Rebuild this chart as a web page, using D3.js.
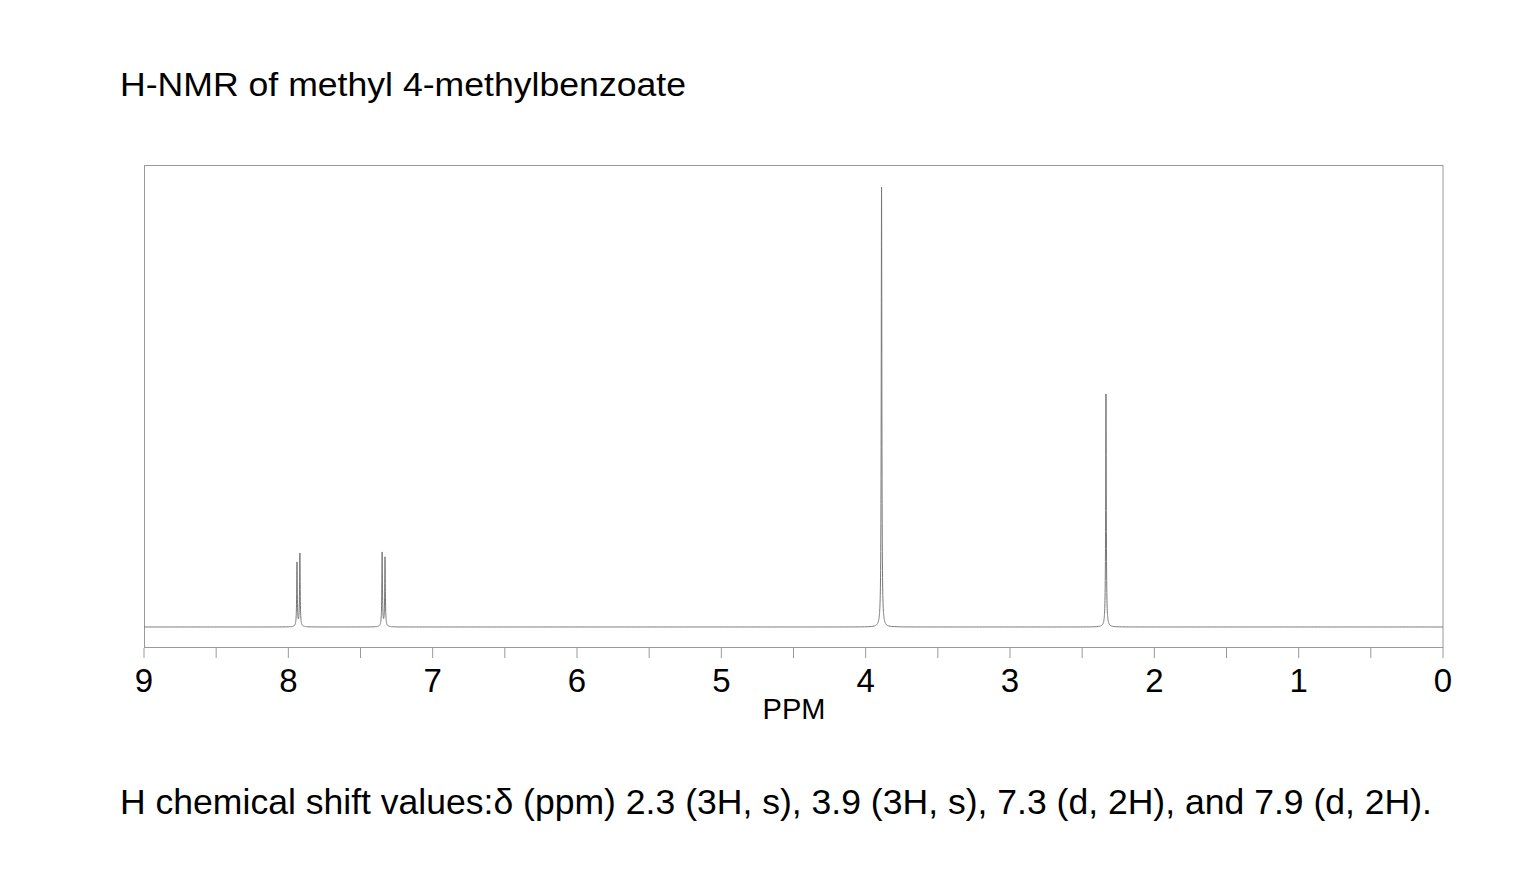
<!DOCTYPE html>
<html><head><meta charset="utf-8">
<script src="https://cdn.jsdelivr.net/npm/d3@7"></script>
<style>body{margin:0;background:#fff}text{font-family:"Liberation Sans",Arial,sans-serif}</style>
</head><body><svg id="viz"></svg>
<script>
// peak list: shift (ppm) and relative height
var peakShifts = [7.94, 7.92, 7.35, 7.33, 3.89, 2.335]
var peakHeights = [64, 73, 74, 69, 440, 233]
var majorTicks = [9, 8, 7, 6, 5, 4, 3, 2, 1, 0]
var minorTicks = [8.5, 7.5, 6.5, 5.5, 4.5, 3.5, 2.5, 1.5, 0.5]

var width = 1532, height = 876
var svg = d3.select("#viz").attr("width", width).attr("height", height)

var x = d3.scaleLinear().domain([9, 0]).range([144, 1443])
var y = d3.scaleLinear().domain([0, 440]).range([627, 187])

svg.append("text").attr("x", 120).attr("y", 96).attr("font-size", 34)
	.attr("textLength", 566).attr("lengthAdjust", "spacingAndGlyphs")
	.text("H-NMR of methyl 4-methylbenzoate")

// frame
svg.append("rect").attr("x", 144.5).attr("y", 165.5).attr("width", 1298.5).attr("height", 482)
	.attr("fill", "none").attr("stroke", "#999")

// spectrum: sum of narrow lorentzians around each peak
var hw = 0.0025
var pts = []
var xs = d3.range(0, 9.0001, 0.01)
peakShifts.forEach(function(p){ d3.range(-0.05, 0.0501, 0.0005).forEach(function(o){ xs.push(p + o) }) })
xs.sort(d3.ascending)
xs.forEach(function(v){
	var s = 0
	for(var i=0;i<peakShifts.length;i++){
		var d = (v - peakShifts[i]) / hw
		s += peakHeights[i] / (1 + d*d)
	}
	pts.push([v, s])
})
svg.append("path").datum(pts).attr("fill", "none").attr("stroke", "#777").attr("stroke-width", 1)
	.attr("d", d3.line().x(d => x(d[0])).y(d => y(d[1])))

// axis
var axis = svg.append("g").attr("transform", "translate(0,648)")
axis.selectAll("line.maj").data(majorTicks).enter().append("line")
	.attr("x1", d => x(d)).attr("x2", d => x(d)).attr("y1", 0).attr("y2", 10).attr("stroke", "#999")
axis.selectAll("line.min").data(minorTicks).enter().append("line")
	.attr("x1", d => x(d)).attr("x2", d => x(d)).attr("y1", 0).attr("y2", 10).attr("stroke", "#999")
axis.selectAll("text").data(majorTicks).enter().append("text")
	.attr("x", d => x(d)).attr("y", 44).attr("text-anchor", "middle").attr("font-size", 33).text(d => d)
svg.append("text").attr("x", 794).attr("y", 719).attr("text-anchor", "middle").attr("font-size", 29).text("PPM")

svg.append("text").attr("x", 120).attr("y", 814).attr("font-size", 35)
	.attr("textLength", 1312).attr("lengthAdjust", "spacingAndGlyphs")
	.text("H chemical shift values:\u03b4 (ppm) 2.3 (3H, s), 3.9 (3H, s), 7.3 (d, 2H), and 7.9 (d, 2H).")
</script></body></html>
